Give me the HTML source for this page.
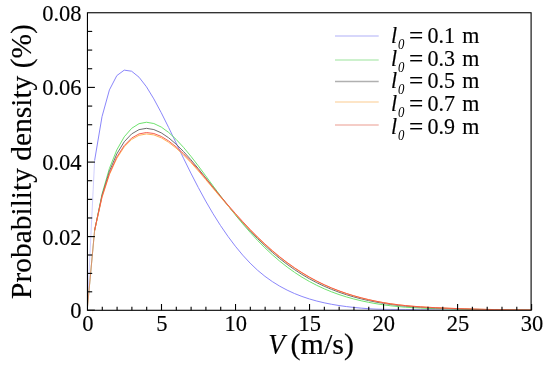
<!DOCTYPE html>
<html><head><meta charset="utf-8"><style>
html,body{margin:0;padding:0;background:#fff;overflow:hidden;}
svg{display:block;}
text{font-family:"Liberation Serif","Times New Roman",serif;fill:#000;stroke:#000;stroke-width:0.15px;}
</style></head><body>
<svg width="550" height="368" viewBox="0 0 550 368">
<rect width="550" height="368" fill="#fff"/>
<defs><clipPath id="pc"><rect x="87" y="12" width="445" height="297.7"/></clipPath></defs>
<g clip-path="url(#pc)">
<path d="M87.20,310.20 L94.61,160.50" fill="none" stroke="#8480fa" stroke-width="0.7" opacity="0.55"/>
<path d="M94.61,160.50 L102.01,116.70 L109.42,89.92 L116.82,75.61 L124.22,70.14 L131.63,71.23 L139.03,77.20 L146.44,86.77 L153.84,98.90 L161.25,112.73 L168.66,127.56 L176.06,142.85 L183.47,158.15 L190.87,173.11 L198.28,187.48 L205.68,201.08 L213.09,213.78 L220.49,225.50 L227.89,236.28 L235.30,246.17 L242.70,255.12 L250.11,263.13 L257.51,270.19 L264.92,276.31 L272.32,281.59 L279.73,286.18 L287.13,290.14 L294.54,293.55 L301.94,296.46 L309.35,298.94 L316.75,301.04 L324.16,302.81 L331.56,304.29 L338.97,305.54 L346.38,306.57 L353.78,307.43 L361.19,308.14 L368.59,308.72 L376.00,309.13 L383.40,309.33 L390.81,309.41 L398.21,309.43 L405.62,309.45 L413.02,309.55 L420.43,309.68 L427.83,309.79 L435.24,309.88 L442.64,309.95 L450.05,310.00 L457.45,310.04 L464.86,310.08 L472.26,310.11 L479.67,310.13 L487.07,310.14 L494.48,310.16 L501.88,310.17 L509.29,310.17 L516.69,310.18 L524.10,310.18 L531.50,310.19" fill="none" stroke="#8480fa" stroke-width="0.95" stroke-linejoin="round"/>
<path d="M87.20,310.20 L94.61,230.62" fill="none" stroke="#66e066" stroke-width="0.7" opacity="0.55"/>
<path d="M94.61,230.62 L102.01,194.11 L109.42,168.43 L116.82,149.88 L124.22,136.84 L131.63,128.35 L139.03,123.68 L146.44,122.24 L153.84,123.52 L161.25,127.06 L168.66,132.45 L176.06,139.31 L183.47,147.31 L190.87,156.23 L198.28,165.85 L205.68,175.85 L213.09,185.93 L220.49,195.85 L227.89,205.49 L235.30,214.84 L242.70,223.81 L250.11,232.32 L257.51,240.34 L264.92,247.83 L272.32,254.78 L279.73,261.17 L287.13,267.02 L294.54,272.34 L301.94,277.15 L309.35,281.47 L316.75,285.34 L324.16,288.79 L331.56,291.84 L338.97,294.54 L346.38,296.90 L353.78,298.97 L361.19,300.77 L368.59,302.33 L376.00,303.68 L383.40,304.84 L390.81,305.81 L398.21,306.59 L405.62,307.22 L413.02,307.71 L420.43,308.10 L427.83,308.40 L435.24,308.65 L442.64,308.85 L450.05,309.04 L457.45,309.23 L464.86,309.41 L472.26,309.55 L479.67,309.67 L487.07,309.77 L494.48,309.86 L501.88,309.92 L509.29,309.98 L516.69,310.02 L524.10,310.06 L531.50,310.09" fill="none" stroke="#66e066" stroke-width="0.95" stroke-linejoin="round"/>
<path d="M87.20,310.20 L94.61,230.56" fill="none" stroke="#666666" stroke-width="0.7" opacity="0.55"/>
<path d="M94.61,230.56 L102.01,195.56 L109.42,171.27 L116.82,153.88 L124.22,141.77 L131.63,133.92 L139.03,129.64 L146.44,128.34 L153.84,129.55 L161.25,132.83 L168.66,137.80 L176.06,144.12 L183.47,151.49 L190.87,159.72 L198.28,168.62 L205.68,177.89 L213.09,187.26 L220.49,196.50 L227.89,205.51 L235.30,214.29 L242.70,222.75 L250.11,230.83 L257.51,238.48 L264.92,245.67 L272.32,252.38 L279.73,258.61 L287.13,264.35 L294.54,269.61 L301.94,274.41 L309.35,278.76 L316.75,282.69 L324.16,286.23 L331.56,289.39 L338.97,292.21 L346.38,294.71 L353.78,296.93 L361.19,298.88 L368.59,300.59 L376.00,302.09 L383.40,303.39 L390.81,304.50 L398.21,305.42 L405.62,306.16 L413.02,306.77 L420.43,307.26 L427.83,307.67 L435.24,308.00 L442.64,308.29 L450.05,308.55 L457.45,308.80 L464.86,309.04 L472.26,309.24 L479.67,309.40 L487.07,309.54 L494.48,309.66 L501.88,309.75 L509.29,309.83 L516.69,309.90 L524.10,309.96 L531.50,310.00" fill="none" stroke="#666666" stroke-width="0.95" stroke-linejoin="round"/>
<path d="M87.20,310.20 L94.61,230.70" fill="none" stroke="#ffb050" stroke-width="0.7" opacity="0.55"/>
<path d="M94.61,230.70 L102.01,197.50 L109.42,174.65 L116.82,158.32 L124.22,146.91 L131.63,139.46 L139.03,135.33 L146.44,133.96 L153.84,134.92 L161.25,137.82 L168.66,142.32 L176.06,148.10 L183.47,154.90 L190.87,162.54 L198.28,170.86 L205.68,179.57 L213.09,188.42 L220.49,197.18 L227.89,205.76 L235.30,214.15 L242.70,222.29 L250.11,230.09 L257.51,237.51 L264.92,244.53 L272.32,251.11 L279.73,257.24 L287.13,262.92 L294.54,268.15 L301.94,272.95 L309.35,277.33 L316.75,281.30 L324.16,284.89 L331.56,288.12 L338.97,291.01 L346.38,293.59 L353.78,295.88 L361.19,297.92 L368.59,299.71 L376.00,301.29 L383.40,302.67 L390.81,303.85 L398.21,304.83 L405.62,305.64 L413.02,306.31 L420.43,306.85 L427.83,307.31 L435.24,307.69 L442.64,308.01 L450.05,308.31 L457.45,308.60 L464.86,308.86 L472.26,309.08 L479.67,309.27 L487.07,309.43 L494.48,309.56 L501.88,309.67 L509.29,309.76 L516.69,309.84 L524.10,309.91 L531.50,309.96" fill="none" stroke="#ffb050" stroke-width="0.95" stroke-linejoin="round"/>
<path d="M87.20,310.20 L94.61,230.06" fill="none" stroke="#f55548" stroke-width="0.7" opacity="0.55"/>
<path d="M94.61,230.06 L102.01,196.60 L109.42,173.55 L116.82,157.09 L124.22,145.59 L131.63,138.09 L139.03,133.92 L146.44,132.54 L153.84,133.51 L161.25,136.43 L168.66,140.97 L176.06,146.80 L183.47,153.64 L190.87,161.35 L198.28,169.73 L205.68,178.51 L213.09,187.43 L220.49,196.26 L227.89,204.91 L235.30,213.37 L242.70,221.57 L250.11,229.44 L257.51,236.92 L264.92,243.99 L272.32,250.62 L279.73,256.80 L287.13,262.53 L294.54,267.81 L301.94,272.64 L309.35,277.06 L316.75,281.06 L324.16,284.68 L331.56,287.93 L338.97,290.85 L346.38,293.45 L353.78,295.76 L361.19,297.81 L368.59,299.62 L376.00,301.21 L383.40,302.60 L390.81,303.79 L398.21,304.78 L405.62,305.60 L413.02,306.27 L420.43,306.82 L427.83,307.28 L435.24,307.66 L442.64,308.00 L450.05,308.30 L457.45,308.58 L464.86,308.85 L472.26,309.07 L479.67,309.26 L487.07,309.42 L494.48,309.56 L501.88,309.67 L509.29,309.76 L516.69,309.84 L524.10,309.90 L531.50,309.96" fill="none" stroke="#f55548" stroke-width="0.95" stroke-linejoin="round"/>
</g>
<g stroke="#000" stroke-width="1.1" fill="none">
<rect x="87.45" y="12.75" width="443.65000000000003" height="297.55"/>
<line x1="102.28" y1="310.3" x2="102.28" y2="306.8"/><line x1="117.09" y1="310.3" x2="117.09" y2="306.8"/><line x1="131.89" y1="310.3" x2="131.89" y2="306.8"/><line x1="146.70" y1="310.3" x2="146.70" y2="306.8"/><line x1="161.50" y1="310.3" x2="161.50" y2="304.0"/><line x1="176.30" y1="310.3" x2="176.30" y2="306.8"/><line x1="191.11" y1="310.3" x2="191.11" y2="306.8"/><line x1="205.91" y1="310.3" x2="205.91" y2="306.8"/><line x1="220.72" y1="310.3" x2="220.72" y2="306.8"/><line x1="235.52" y1="310.3" x2="235.52" y2="304.0"/><line x1="250.32" y1="310.3" x2="250.32" y2="306.8"/><line x1="265.13" y1="310.3" x2="265.13" y2="306.8"/><line x1="279.93" y1="310.3" x2="279.93" y2="306.8"/><line x1="294.74" y1="310.3" x2="294.74" y2="306.8"/><line x1="309.54" y1="310.3" x2="309.54" y2="304.0"/><line x1="324.34" y1="310.3" x2="324.34" y2="306.8"/><line x1="339.15" y1="310.3" x2="339.15" y2="306.8"/><line x1="353.95" y1="310.3" x2="353.95" y2="306.8"/><line x1="368.76" y1="310.3" x2="368.76" y2="306.8"/><line x1="383.56" y1="310.3" x2="383.56" y2="304.0"/><line x1="398.36" y1="310.3" x2="398.36" y2="306.8"/><line x1="413.17" y1="310.3" x2="413.17" y2="306.8"/><line x1="427.97" y1="310.3" x2="427.97" y2="306.8"/><line x1="442.78" y1="310.3" x2="442.78" y2="306.8"/><line x1="457.58" y1="310.3" x2="457.58" y2="304.0"/><line x1="472.38" y1="310.3" x2="472.38" y2="306.8"/><line x1="487.19" y1="310.3" x2="487.19" y2="306.8"/><line x1="501.99" y1="310.3" x2="501.99" y2="306.8"/><line x1="516.80" y1="310.3" x2="516.80" y2="306.8"/><line x1="531.60" y1="310.3" x2="531.60" y2="304.0"/><line x1="87.45" y1="310.20" x2="94.9" y2="310.20"/><line x1="87.45" y1="291.80" x2="92.2" y2="291.80"/><line x1="87.45" y1="273.40" x2="92.2" y2="273.40"/><line x1="87.45" y1="255.00" x2="92.2" y2="255.00"/><line x1="87.45" y1="236.60" x2="94.9" y2="236.60"/><line x1="87.45" y1="217.97" x2="92.2" y2="217.97"/><line x1="87.45" y1="199.35" x2="92.2" y2="199.35"/><line x1="87.45" y1="180.72" x2="92.2" y2="180.72"/><line x1="87.45" y1="162.10" x2="94.9" y2="162.10"/><line x1="87.45" y1="143.43" x2="92.2" y2="143.43"/><line x1="87.45" y1="124.75" x2="92.2" y2="124.75"/><line x1="87.45" y1="106.08" x2="92.2" y2="106.08"/><line x1="87.45" y1="87.40" x2="94.9" y2="87.40"/><line x1="87.45" y1="68.74" x2="92.2" y2="68.74"/><line x1="87.45" y1="50.08" x2="92.2" y2="50.08"/><line x1="87.45" y1="31.41" x2="92.2" y2="31.41"/>
</g>
<g font-size="22.5"><text x="87.78" y="330.6" text-anchor="middle">0</text><text x="161.80" y="330.6" text-anchor="middle">5</text><text x="235.82" y="330.6" text-anchor="middle">10</text><text x="309.84" y="330.6" text-anchor="middle">15</text><text x="383.86" y="330.6" text-anchor="middle">20</text><text x="457.88" y="330.6" text-anchor="middle">25</text><text x="531.90" y="330.6" text-anchor="middle">30</text><text x="81.6" y="318.20" text-anchor="end">0</text><text x="81.6" y="244.60" text-anchor="end">0.02</text><text x="81.6" y="170.10" text-anchor="end">0.04</text><text x="81.6" y="95.40" text-anchor="end">0.06</text><text x="81.6" y="20.75" text-anchor="end">0.08</text></g>
<text transform="translate(268.3,354.3) scale(0.9,1)" font-size="30" font-style="italic">V</text>
<text x="290.6" y="354.3" font-size="30">(m/s)</text>
<text transform="translate(31.2,298.9) rotate(-90)" font-size="29.45">Probability density (%)</text>
<line x1="335" y1="36.0" x2="378.7" y2="36.0" stroke="#cacafa" stroke-width="1.5"/><g transform="translate(0,43.0) scale(1,1.07)"><text x="391.1" y="0" font-size="22" font-style="italic">l</text><text x="398.0" y="5.7" font-size="12.8" font-style="italic" style="stroke:none">0</text><text transform="translate(408.9,0) scale(1.15,1)" font-size="22">=</text><text x="427.5" y="0" font-size="22">0.1</text><text x="462.3" y="0" font-size="22">m</text></g><line x1="335" y1="59.9" x2="378.7" y2="59.9" stroke="#bcecbc" stroke-width="1.5"/><g transform="translate(0,65.7) scale(1,1.07)"><text x="391.1" y="0" font-size="22" font-style="italic">l</text><text x="398.0" y="5.7" font-size="12.8" font-style="italic" style="stroke:none">0</text><text transform="translate(408.9,0) scale(1.15,1)" font-size="22">=</text><text x="427.5" y="0" font-size="22">0.3</text><text x="462.3" y="0" font-size="22">m</text></g><line x1="335" y1="81.4" x2="378.7" y2="81.4" stroke="#b0b0b0" stroke-width="1.5"/><g transform="translate(0,88.3) scale(1,1.07)"><text x="391.1" y="0" font-size="22" font-style="italic">l</text><text x="398.0" y="5.7" font-size="12.8" font-style="italic" style="stroke:none">0</text><text transform="translate(408.9,0) scale(1.15,1)" font-size="22">=</text><text x="427.5" y="0" font-size="22">0.5</text><text x="462.3" y="0" font-size="22">m</text></g><line x1="335" y1="102.1" x2="378.7" y2="102.1" stroke="#fcdcb4" stroke-width="1.5"/><g transform="translate(0,111.3) scale(1,1.07)"><text x="391.1" y="0" font-size="22" font-style="italic">l</text><text x="398.0" y="5.7" font-size="12.8" font-style="italic" style="stroke:none">0</text><text transform="translate(408.9,0) scale(1.15,1)" font-size="22">=</text><text x="427.5" y="0" font-size="22">0.7</text><text x="462.3" y="0" font-size="22">m</text></g><line x1="335" y1="125.1" x2="378.7" y2="125.1" stroke="#f2bcb4" stroke-width="1.5"/><g transform="translate(0,133.8) scale(1,1.07)"><text x="391.1" y="0" font-size="22" font-style="italic">l</text><text x="398.0" y="5.7" font-size="12.8" font-style="italic" style="stroke:none">0</text><text transform="translate(408.9,0) scale(1.15,1)" font-size="22">=</text><text x="427.5" y="0" font-size="22">0.9</text><text x="462.3" y="0" font-size="22">m</text></g>
</svg>
</body></html>
